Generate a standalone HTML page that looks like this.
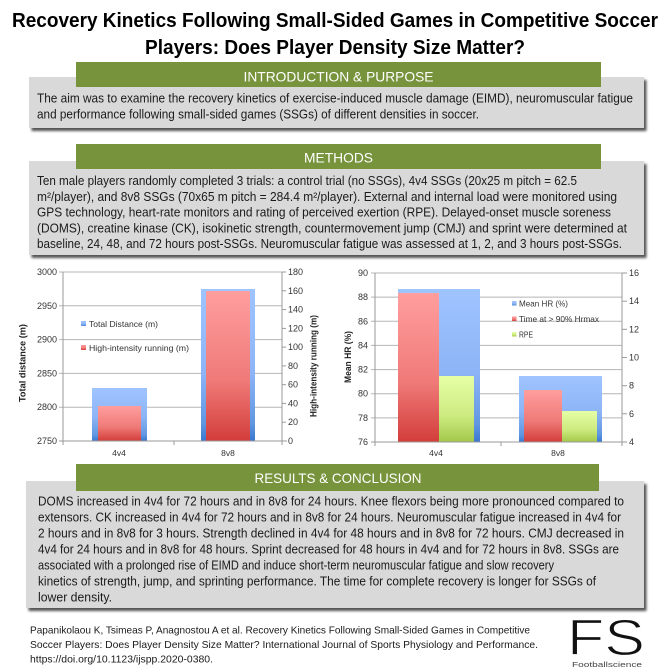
<!DOCTYPE html>
<html>
<head>
<meta charset="utf-8">
<style>
  html,body{margin:0;padding:0;background:#fff;}
  svg{display:block;}
  text{font-family:"Liberation Sans",sans-serif;}
</style>
</head>
<body>
<svg width="670" height="670" viewBox="0 0 670 670" xmlns="http://www.w3.org/2000/svg">
  <defs>
    <filter id="sh" x="-5%" y="-10%" width="115%" height="130%">
      <feGaussianBlur stdDeviation="1.3"/>
    </filter>
    <linearGradient id="gb" x1="0" y1="0" x2="0" y2="1">
      <stop offset="0" stop-color="#9fc4ff"/>
      <stop offset="0.55" stop-color="#8db4f6"/>
      <stop offset="0.88" stop-color="#6198e2"/>
      <stop offset="1" stop-color="#3a77cf"/>
    </linearGradient>
    <linearGradient id="gr" x1="0" y1="0" x2="0" y2="1">
      <stop offset="0" stop-color="#ff9e9e"/>
      <stop offset="0.6" stop-color="#ef7a78"/>
      <stop offset="1" stop-color="#d33d3a"/>
    </linearGradient>
    <linearGradient id="gg" x1="0" y1="0" x2="0" y2="1">
      <stop offset="0" stop-color="#e6ffa6"/>
      <stop offset="0.6" stop-color="#cdeb80"/>
      <stop offset="1" stop-color="#a3c84a"/>
    </linearGradient>
  </defs>

  <rect width="670" height="670" fill="#fff"/>

  <!-- Title -->
  <text x="12" y="27" font-size="20" font-weight="bold" fill="#000" textLength="646" lengthAdjust="spacingAndGlyphs">Recovery Kinetics Following Small-Sided Games in Competitive Soccer</text>
  <text x="145" y="54" font-size="20" font-weight="bold" fill="#000" textLength="380" lengthAdjust="spacingAndGlyphs">Players: Does Player Density Size Matter?</text>

  <!-- INTRO -->
  <rect x="31.5" y="80" width="615" height="51" fill="#555" filter="url(#sh)"/>
  <rect x="29" y="77" width="615" height="51" fill="#d9d9d9"/>
  <rect x="76" y="62" width="525" height="25" fill="#77933c"/>
  <text x="338.5" y="81.5" font-size="14" fill="#fff" text-anchor="middle" textLength="190" lengthAdjust="spacingAndGlyphs">INTRODUCTION &amp; PURPOSE</text>
  <g font-size="13" fill="#1a1a1a">
    <text x="37" y="102.5" textLength="596" lengthAdjust="spacingAndGlyphs">The aim was to examine the recovery kinetics of exercise-induced muscle damage (EIMD), neuromuscular fatigue</text>
    <text x="37" y="118.5" textLength="442" lengthAdjust="spacingAndGlyphs">and performance following small-sided games (SSGs) of different densities in soccer.</text>
  </g>

  <!-- METHODS -->
  <rect x="31.5" y="164" width="615" height="94" fill="#555" filter="url(#sh)"/>
  <rect x="29" y="161" width="615" height="94" fill="#d9d9d9"/>
  <rect x="76" y="144" width="525" height="25" fill="#77933c"/>
  <text x="338.5" y="162.5" font-size="14" fill="#fff" text-anchor="middle" textLength="69" lengthAdjust="spacingAndGlyphs">METHODS</text>
  <g font-size="13" fill="#1a1a1a">
    <text x="37" y="185" textLength="540" lengthAdjust="spacingAndGlyphs">Ten male players randomly completed 3 trials: a control trial (no SSGs), 4v4 SSGs (20x25 m pitch = 62.5</text>
    <text x="37" y="200.8" textLength="580" lengthAdjust="spacingAndGlyphs">m²/player), and 8v8 SSGs (70x65 m pitch = 284.4 m²/player). External and internal load were monitored using</text>
    <text x="37" y="216.6" textLength="574" lengthAdjust="spacingAndGlyphs">GPS technology, heart-rate monitors and rating of perceived exertion (RPE). Delayed-onset muscle soreness</text>
    <text x="37" y="232.4" textLength="590" lengthAdjust="spacingAndGlyphs">(DOMS), creatine kinase (CK), isokinetic strength, countermovement jump (CMJ) and sprint were determined at</text>
    <text x="37" y="248.2" textLength="585" lengthAdjust="spacingAndGlyphs">baseline, 24, 48, and 72 hours post-SSGs. Neuromuscular fatigue was assessed at 1, 2, and 3 hours post-SSGs.</text>
  </g>

  <!-- CHART 1 -->
  <g stroke="#b5b5b5" stroke-width="1" fill="none">
    <line x1="59" y1="272" x2="282" y2="272"/>
    <line x1="59" y1="305.8" x2="282" y2="305.8"/>
    <line x1="59" y1="339.6" x2="282" y2="339.6"/>
    <line x1="59" y1="373.4" x2="282" y2="373.4"/>
    <line x1="59" y1="407.2" x2="282" y2="407.2"/>
  </g>
  <rect x="92" y="388" width="55" height="53" fill="url(#gb)"/>
  <rect x="98" y="406" width="43" height="35" fill="url(#gr)"/>
  <rect x="201" y="289" width="54" height="152" fill="url(#gb)"/>
  <rect x="206" y="291" width="44" height="150" fill="url(#gr)"/>
  <g stroke="#9a9a9a" stroke-width="1" fill="none">
    <line x1="63" y1="272" x2="63" y2="441"/>
    <line x1="282" y1="272" x2="282" y2="441"/>
    <line x1="59" y1="441" x2="287" y2="441"/>
    <line x1="63" y1="441" x2="63" y2="445"/>
    <line x1="174" y1="441" x2="174" y2="445"/>
    <line x1="282" y1="441" x2="282" y2="445"/>
    <line x1="282" y1="272" x2="286" y2="272"/>
    <line x1="282" y1="290.8" x2="286" y2="290.8"/>
    <line x1="282" y1="309.6" x2="286" y2="309.6"/>
    <line x1="282" y1="328.4" x2="286" y2="328.4"/>
    <line x1="282" y1="347.1" x2="286" y2="347.1"/>
    <line x1="282" y1="365.9" x2="286" y2="365.9"/>
    <line x1="282" y1="384.7" x2="286" y2="384.7"/>
    <line x1="282" y1="403.4" x2="286" y2="403.4"/>
    <line x1="282" y1="422.2" x2="286" y2="422.2"/>
  </g>
  <g font-size="9" fill="#333" text-anchor="end">
    <text x="57" y="275">3000</text>
    <text x="57" y="308.8">2950</text>
    <text x="57" y="342.6">2900</text>
    <text x="57" y="376.4">2850</text>
    <text x="57" y="410.2">2800</text>
    <text x="57" y="444">2750</text>
  </g>
  <g font-size="9" fill="#333">
    <text x="288" y="275">180</text>
    <text x="288" y="293.8">160</text>
    <text x="288" y="312.6">140</text>
    <text x="288" y="331.4">120</text>
    <text x="288" y="350.1">100</text>
    <text x="288" y="368.9">80</text>
    <text x="288" y="387.7">60</text>
    <text x="288" y="406.4">40</text>
    <text x="288" y="425.2">20</text>
    <text x="288" y="444">0</text>
  </g>
  <g font-size="8.5" fill="#333" text-anchor="middle">
    <text x="119" y="456">4v4</text>
    <text x="228" y="456">8v8</text>
  </g>
  <rect x="81" y="321" width="5" height="5" fill="url(#gb)"/>
  <text x="89" y="327" font-size="8.5" fill="#333" textLength="69" lengthAdjust="spacingAndGlyphs">Total Distance (m)</text>
  <rect x="81" y="345" width="5" height="5" fill="url(#gr)"/>
  <text x="89" y="351" font-size="8.5" fill="#333" textLength="100" lengthAdjust="spacingAndGlyphs">High-intensity running (m)</text>
  <text transform="translate(25.5,363) rotate(-90)" font-size="9" font-weight="bold" fill="#222" text-anchor="middle" textLength="78" lengthAdjust="spacingAndGlyphs">Total distance (m)</text>
  <text transform="translate(316.5,366) rotate(-90)" font-size="9" font-weight="bold" fill="#222" text-anchor="middle" textLength="102" lengthAdjust="spacingAndGlyphs">High-intensity running (m)</text>

  <!-- CHART 2 -->
  <g stroke="#b5b5b5" stroke-width="1" fill="none">
    <line x1="371" y1="273" x2="622" y2="273"/>
    <line x1="371" y1="297.1" x2="622" y2="297.1"/>
    <line x1="371" y1="321.3" x2="622" y2="321.3"/>
    <line x1="371" y1="345.4" x2="622" y2="345.4"/>
    <line x1="371" y1="369.6" x2="622" y2="369.6"/>
    <line x1="371" y1="393.7" x2="622" y2="393.7"/>
    <line x1="371" y1="417.9" x2="622" y2="417.9"/>
  </g>
  <rect x="398" y="289" width="82" height="153" fill="url(#gb)"/>
  <rect x="398" y="293" width="41" height="149" fill="url(#gr)"/>
  <rect x="439" y="376" width="35" height="66" fill="url(#gg)"/>
  <rect x="519" y="376" width="83" height="66" fill="url(#gb)"/>
  <rect x="524" y="390" width="38" height="52" fill="url(#gr)"/>
  <rect x="562" y="411" width="35" height="31" fill="url(#gg)"/>
  <g stroke="#9a9a9a" stroke-width="1" fill="none">
    <line x1="375" y1="273" x2="375" y2="442"/>
    <line x1="622" y1="273" x2="622" y2="442"/>
    <line x1="371" y1="442" x2="627" y2="442"/>
    <line x1="375" y1="442" x2="375" y2="446"/>
    <line x1="501" y1="442" x2="501" y2="446"/>
    <line x1="622" y1="442" x2="622" y2="446"/>
    <line x1="622" y1="273" x2="627" y2="273"/>
    <line x1="622" y1="301.2" x2="627" y2="301.2"/>
    <line x1="622" y1="329.3" x2="627" y2="329.3"/>
    <line x1="622" y1="357.5" x2="627" y2="357.5"/>
    <line x1="622" y1="385.7" x2="627" y2="385.7"/>
    <line x1="622" y1="413.8" x2="627" y2="413.8"/>
  </g>
  <g font-size="9" fill="#333" text-anchor="end">
    <text x="368" y="276">90</text>
    <text x="368" y="300.1">88</text>
    <text x="368" y="324.3">86</text>
    <text x="368" y="348.4">84</text>
    <text x="368" y="372.6">82</text>
    <text x="368" y="396.7">80</text>
    <text x="368" y="420.9">78</text>
    <text x="368" y="445">76</text>
  </g>
  <g font-size="9" fill="#333">
    <text x="629" y="276">16</text>
    <text x="629" y="304.2">14</text>
    <text x="629" y="332.3">12</text>
    <text x="629" y="360.5">10</text>
    <text x="629" y="388.7">8</text>
    <text x="629" y="416.8">6</text>
    <text x="629" y="445">4</text>
  </g>
  <g font-size="8.5" fill="#333" text-anchor="middle">
    <text x="436" y="456">4v4</text>
    <text x="558" y="456">8v8</text>
  </g>
  <rect x="512" y="301" width="4.5" height="4.5" fill="url(#gb)"/>
  <text x="519" y="306.5" font-size="8.5" fill="#333" textLength="49" lengthAdjust="spacingAndGlyphs">Mean HR (%)</text>
  <rect x="512" y="316.5" width="4.5" height="4.5" fill="url(#gr)"/>
  <text x="519" y="322" font-size="8.5" fill="#333" textLength="80" lengthAdjust="spacingAndGlyphs">Time at &gt; 90% Hrmax</text>
  <rect x="512" y="332" width="4.5" height="4.5" fill="url(#gg)"/>
  <text x="519" y="337.5" font-size="8.5" fill="#333" textLength="14" lengthAdjust="spacingAndGlyphs">RPE</text>
  <text transform="translate(351,357) rotate(-90)" font-size="9" font-weight="bold" fill="#222" text-anchor="middle" textLength="52" lengthAdjust="spacingAndGlyphs">Mean HR (%)</text>

  <!-- RESULTS -->
  <rect x="28.5" y="484" width="618" height="127" fill="#555" filter="url(#sh)"/>
  <rect x="26" y="481" width="618" height="127" fill="#d9d9d9"/>
  <rect x="76" y="464" width="523" height="27" fill="#77933c"/>
  <text x="338" y="483" font-size="14" fill="#fff" text-anchor="middle" textLength="167" lengthAdjust="spacingAndGlyphs">RESULTS &amp; CONCLUSION</text>
  <g font-size="13" fill="#1a1a1a">
    <text x="38" y="505.5" textLength="586" lengthAdjust="spacingAndGlyphs">DOMS increased in 4v4 for 72 hours and in 8v8 for 24 hours. Knee flexors being more pronounced compared to</text>
    <text x="38" y="521.5" textLength="583" lengthAdjust="spacingAndGlyphs">extensors. CK increased in 4v4 for 72 hours and in 8v8 for 24 hours. Neuromuscular fatigue increased in 4v4 for</text>
    <text x="38" y="537.5" textLength="586" lengthAdjust="spacingAndGlyphs">2 hours and in 8v8 for 3 hours. Strength declined in 4v4 for 48 hours and in 8v8 for 72 hours. CMJ decreased in</text>
    <text x="38" y="553.5" textLength="581" lengthAdjust="spacingAndGlyphs">4v4 for 24 hours and in 8v8 for 48 hours. Sprint decreased for 48 hours in 4v4 and for 72 hours in 8v8. SSGs are</text>
    <text x="38" y="569.5" textLength="516" lengthAdjust="spacingAndGlyphs">associated with a prolonged rise of EIMD and induce short-term neuromuscular fatigue and slow recovery</text>
    <text x="38" y="585.5" textLength="558" lengthAdjust="spacingAndGlyphs">kinetics of strength, jump, and sprinting performance. The time for complete recovery is longer for SSGs of</text>
    <text x="38" y="601.5" textLength="74" lengthAdjust="spacingAndGlyphs">lower density.</text>
  </g>

  <!-- Reference -->
  <g font-size="10.5" fill="#1a1a1a">
    <text x="30" y="633.5" textLength="500" lengthAdjust="spacingAndGlyphs">Papanikolaou K, Tsimeas P, Anagnostou A et al. Recovery Kinetics Following Small-Sided Games in Competitive</text>
    <text x="30" y="648" textLength="508" lengthAdjust="spacingAndGlyphs">Soccer Players: Does Player Density Size Matter? International Journal of Sports Physiology and Performance.</text>
    <text x="30" y="662.5" textLength="183" lengthAdjust="spacingAndGlyphs">https://doi.org/10.1123/ijspp.2020-0380.</text>
  </g>

  <!-- FS logo -->
  <text x="567" y="655" font-size="51" fill="#111" stroke="#fff" stroke-width="1.2" textLength="78" lengthAdjust="spacingAndGlyphs">FS</text>
  <text x="572" y="667" font-size="7.5" fill="#444" textLength="70" lengthAdjust="spacingAndGlyphs">Footballscience</text>
</svg>
</body>
</html>
